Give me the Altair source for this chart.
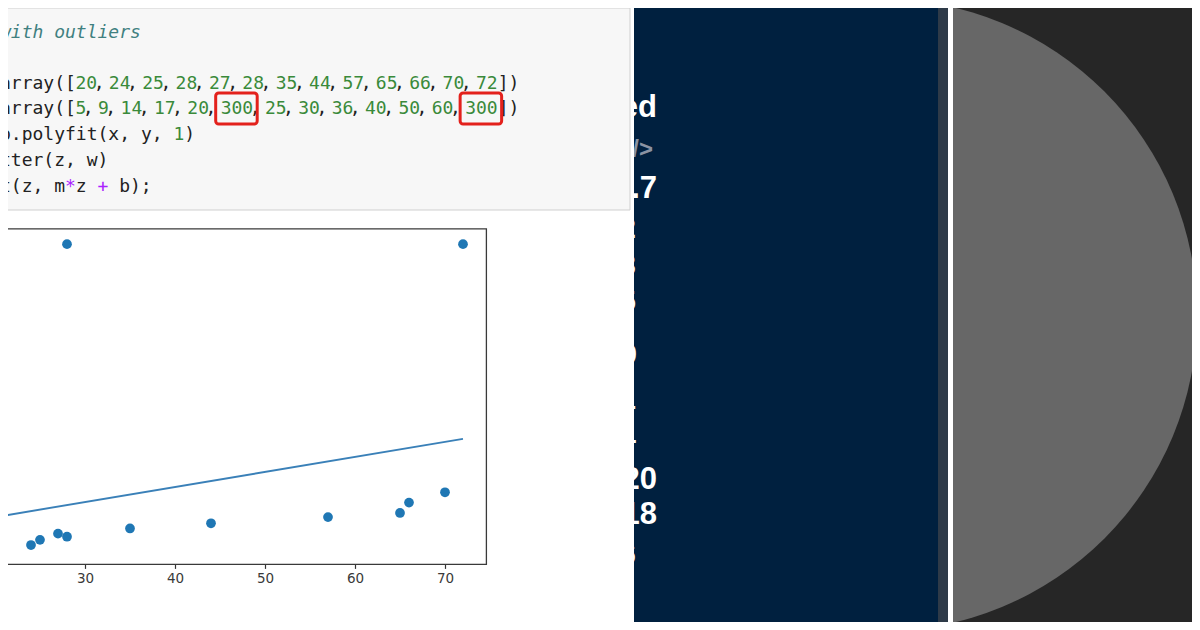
import math
import altair as alt
import pandas as pd

# ---------------- data ----------------
z = [20, 24, 25, 28, 27, 28, 35, 44, 57, 65, 66, 70, 72]
w = [5, 9, 14, 17, 20, 300, 25, 30, 36, 40, 50, 60, 300]
x_ticks = [20, 30, 40, 50, 60, 70]
x_lim = [17.4, 74.6]
y_lim = [-9.75, 314.75]
boxed_idx = [5, 12]          # the two 300 values boxed in red

comment_text = "with outliers"
array_prefix = "array(["
fit_segments = [("p.polyfit(x, y, ", "dark"), ("1", "num"), (")", "dark")]
scatter_segments = [("tter(z, w)", "dark")]
plot_segments = [("t(z, m", "dark"), ("*", "op"), ("z ", "dark"), ("+", "op"), (" b);", "dark")]

panel_text = ["ed", "/>", "4.7", "2", "3", "5", "9", "1", "4", "20", "18", "6"]
panel_kind = ["w", "g", "w", "w", "w", "w", "w", "w", "w", "w", "w", "w"]

# ---------------- layout ----------------
OX, OY = 8, 8
W, H = 1184, 614
def px(x): return x - OX
def py(y): return y - OY

DARK, NUM, OP, COMMENT = "#222222", "#3a8a3a", "#aa22ff", "#408080"
COLS = {"dark": DARK, "num": NUM, "op": OP}
FS = 18
CW = FS * 0.602
SEP = 11.7

code_y = [33, 84, 109, 135, 161, 187]
panel_y = [108, 150, 189, 229, 266, 302, 355, 400, 438, 480, 515, 555]
panel_right = [657, 653, 657, 636, 636, 636, 637, 636, 636, 657, 657, 636]
panel_size = [31, 24, 31, 30, 30, 30, 30, 30, 30, 31, 31, 30]

one = pd.DataFrame({"k": [0]})

def box(x0, x1, y0, y1, **kw):
    return alt.Chart(one).mark_rect(**kw).encode(
        x=alt.value(px(x0)), x2=alt.value(px(x1)),
        y=alt.value(py(y0)), y2=alt.value(py(y1)))

# ---------------- code tokens ----------------
tokens = []
red_boxes = []

def add(text, x, y, color):
    tokens.append({"t": text, "px": px(x), "py": py(y), "c": color})

def add_segments(segs, x0, y):
    col = 0
    for text, kind in segs:
        lead = len(text) - len(text.lstrip(" "))
        if text.strip():
            add(text.strip(" "), x0 + (col + lead) * CW, y, COLS[kind])
        col += len(text)

def add_array(values, y, boxed):
    add(array_prefix, 0, y, DARK)
    cur = 75.5
    for i, v in enumerate(values):
        s = str(v)
        add(s, cur, y, NUM)
        wd = len(s) * CW
        if i in boxed:
            red_boxes.append({"x0": px(cur - 5), "x1": px(cur + wd + 4),
                              "y0": py(93), "y1": py(124)})
        cur += wd
        if i < len(values) - 1:
            add(",", cur - 3.5, y, DARK)
            cur += SEP
    add("])", cur, y, DARK)

add_array(z, code_y[1], [])
add_array(w, code_y[2], boxed_idx)
add_segments(fit_segments, 0, code_y[3])
add_segments(scatter_segments, 0, code_y[4])
add_segments(plot_segments, 0, code_y[5])
tok_df = pd.DataFrame(tokens)
box_df = pd.DataFrame(red_boxes)

panel_df = pd.DataFrame({
    "t": panel_text,
    "px": [px(v) for v in panel_right],
    "py": [py(v) for v in panel_y],
    "s": panel_size,
    "c": ["#ffffff" if k == "w" else "#8a93a3" for k in panel_kind],
})

# ---------------- background pieces ----------------
circle = alt.Chart(one).mark_arc(radius=316, theta=0, theta2=2 * math.pi,
                                 color="#676767").encode(
    x=alt.value(px(881)), y=alt.value(py(315)))
blue = box(634, 938, 0, 630, color="#00203f")
strip = box(938, 948, 0, 630, color="#2e3a48")
gap = box(948, 953, 0, 630, color="#ffffff")

panel_txt = alt.Chart(panel_df).mark_text(
    align="right", baseline="middle", font="Liberation Sans", fontWeight="bold"
).encode(
    x=alt.X("px:Q", scale=None, axis=None),
    y=alt.Y("py:Q", scale=None, axis=None),
    text="t:N",
    size=alt.Size("s:Q", scale=None),
    color=alt.Color("c:N", scale=None),
)

left_white = box(0, 634, 0, 630, color="#ffffff")
cell = box(-2, 630, 8, 210, color="#f7f7f7", stroke="#cfcfcf", strokeWidth=1)

code_txt = alt.Chart(tok_df).mark_text(
    align="left", baseline="middle", font="DejaVu Sans Mono", fontSize=FS
).encode(
    x=alt.X("px:Q", scale=None, axis=None),
    y=alt.Y("py:Q", scale=None, axis=None),
    text="t:N",
    color=alt.Color("c:N", scale=None),
)

comment = alt.Chart(pd.DataFrame({"t": [comment_text]})).mark_text(
    align="left", baseline="middle", font="DejaVu Sans Mono", fontSize=FS,
    fontStyle="italic", color=COMMENT
).encode(x=alt.value(px(0)), y=alt.value(py(code_y[0])), text="t:N")

red = alt.Chart(box_df).mark_rect(
    fillOpacity=0, stroke="#e3211c", strokeWidth=3, cornerRadius=3
).encode(
    x=alt.X("x0:Q", scale=None, axis=None), x2="x1:Q",
    y=alt.Y("y0:Q", scale=None, axis=None), y2="y1:Q",
)

# ---------------- scatter plot ----------------
X_RANGE = [px(-28.4), px(486.4)]
Y_RANGE = [py(564.4), py(228.9)]
xenc = alt.X(
    "x:Q",
    scale=alt.Scale(domain=x_lim, range=X_RANGE, nice=False, zero=False),
    axis=alt.Axis(values=x_ticks, offset=py(564.4) - H, domain=False, grid=False,
                  tickSize=4, tickColor="#333333", tickWidth=1.2,
                  labelFontSize=13.5, labelColor="#3a3a3a", labelFont="DejaVu Sans",
                  labelPadding=3, title=None, zindex=1),
)
yenc = alt.Y(
    "y:Q",
    scale=alt.Scale(domain=y_lim, range=Y_RANGE, nice=False, zero=False),
    axis=None,
)

pts = pd.DataFrame({"x": z, "y": w})
frame_df = pd.DataFrame({"x": [x_lim[0]], "x2": [x_lim[1]], "y": [y_lim[0]], "y2": [y_lim[1]]})

frame = alt.Chart(frame_df).mark_rect(
    fillOpacity=0, stroke="#3a3a3a", strokeWidth=1.3
).encode(x=xenc, x2="x2:Q", y=yenc, y2="y2:Q")

points = alt.Chart(pts).mark_circle(size=95, color="#1f77b4", opacity=1).encode(x=xenc, y=yenc)

fit = alt.Chart(pts).transform_regression("x", "y").mark_line(
    color="#3a80b8", strokeWidth=1.9
).encode(x=xenc, y=yenc)

chart = alt.layer(
    circle, blue, strip, gap, panel_txt,
    left_white, cell, code_txt, comment, red,
    frame, fit, points,
).properties(
    width=W, height=H, autosize=alt.AutoSizeParams(type="none"), padding=0,
    background="#262626",
).configure_view(strokeWidth=0)

chart.save("out.html", embed_options={"renderer": "svg", "actions": False})
